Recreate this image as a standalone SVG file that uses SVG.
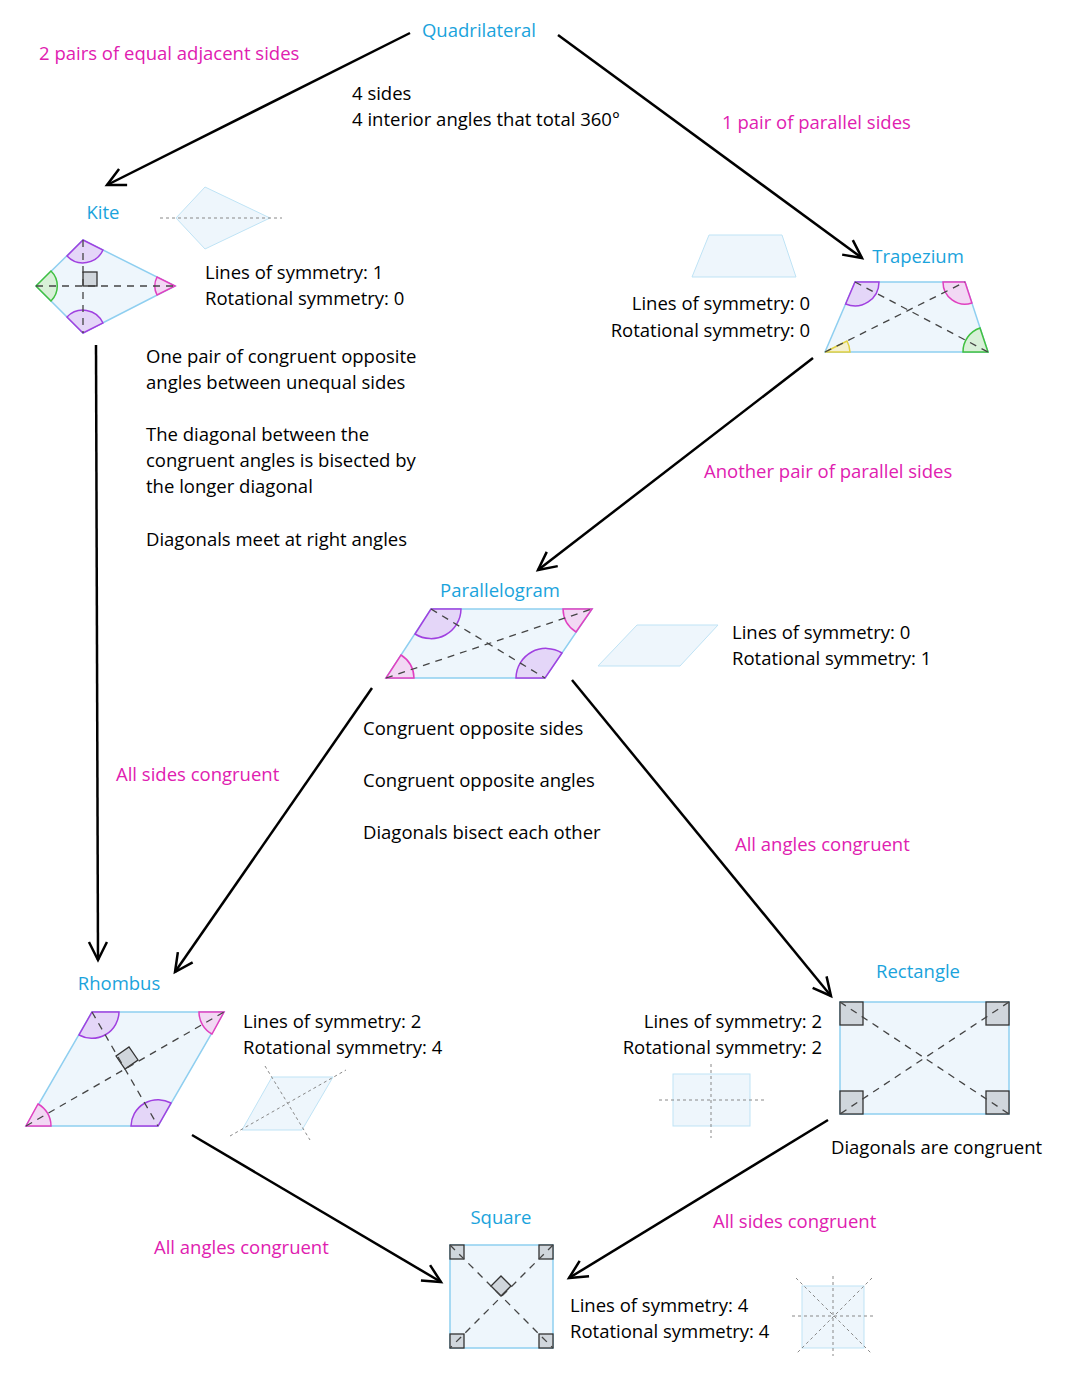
<svg xmlns="http://www.w3.org/2000/svg" width="1080" height="1398" viewBox="0 0 1080 1398">
<defs>
<marker id="ah" markerWidth="24" markerHeight="24" refX="21" refY="12" orient="auto" markerUnits="userSpaceOnUse"><path d="M3,3 L21,12 L3,21" fill="none" stroke="#000" stroke-width="2.5"/></marker>
</defs>
<style>
text{font-family:"Open Sans","Liberation Sans",sans-serif;font-size:18.5px;fill:#000}
.t{fill:#1aa3dc}
.m{fill:#e020b0}
.sh{fill:#eef6fc;stroke:#8fcff0;stroke-width:1.5}
.gh{fill:#eef6fc;stroke:#bfe3f5;stroke-width:1}
.d{stroke:#444;stroke-width:1.3;stroke-dasharray:7,6;fill:none}
.dg{stroke:#888;stroke-width:1;stroke-dasharray:3,3;fill:none}
.pu{fill:#e4d6f8;stroke:#a040e0;stroke-width:1.5}
.pk{fill:#f2d8f4;stroke:#e040c0;stroke-width:1.5}
.gr{fill:#d8f0d8;stroke:#40c040;stroke-width:1.5}
.ye{fill:#f4f0d0;stroke:#e0d040;stroke-width:1.5}
.ra{fill:#d0d6dc;stroke:#333;stroke-width:1.3}
.c{stroke:#000;stroke-width:2.5;fill:none;marker-end:url(#ah)}
</style>
<g id="connectors">
<line class="c" x1="410" y1="33" x2="107" y2="185"/>
<line class="c" x1="558" y1="35" x2="862" y2="258"/>
<line class="c" x1="813" y1="358" x2="538" y2="570"/>
<line class="c" x1="96" y1="345" x2="98" y2="960"/>
<line class="c" x1="372" y1="688" x2="175" y2="972"/>
<line class="c" x1="572" y1="680" x2="831" y2="996"/>
<line class="c" x1="192" y1="1135" x2="441" y2="1282"/>
<line class="c" x1="828" y1="1120" x2="569" y2="1278"/>
</g>
<g id="labels">
<text x="39" y="60" class="m">2 pairs of equal adjacent sides</text>
<text x="722" y="129" class="m">1 pair of parallel sides</text>
<text x="704" y="478" class="m">Another pair of parallel sides</text>
<text x="116" y="781" class="m">All sides congruent</text>
<text x="735" y="851" class="m">All angles congruent</text>
<text x="154" y="1254" class="m">All angles congruent</text>
<text x="713" y="1228" class="m">All sides congruent</text>
</g>
<g id="quadrilateral">
<text x="479" y="37" class="t" text-anchor="middle">Quadrilateral</text>
<text x="352" y="100">4 sides</text>
<text x="352" y="126">4 interior angles that total 360°</text>
</g>
<g id="kite">
<text x="103" y="219" class="t" text-anchor="middle">Kite</text>
<polygon class="gh" points="176,218 205,187 270,218 205,249"/>
<line class="dg" x1="160" y1="218" x2="282" y2="218"/>
<polygon class="sh" points="36,286 83,240 175,286 83,333"/>
<path class="pu" d="M83,240 L67,256 A22,22 0 0 0 103,250 Z"/>
<path class="pu" d="M83,333 L67,317 A22,22 0 0 1 103,323 Z"/>
<path class="gr" d="M36,286 L51,271 A21,21 0 0 1 51,301 Z"/>
<path class="pk" d="M175,286 L157,277 A20,20 0 0 0 157,295 Z"/>
<rect class="ra" x="83" y="272" width="14" height="14"/>
<line class="d" x1="36" y1="286" x2="175" y2="286"/>
<line class="d" x1="83" y1="240" x2="83" y2="333"/>
<text x="205" y="279">Lines of symmetry: 1</text>
<text x="205" y="305">Rotational symmetry: 0</text>
<text x="146" y="363">One pair of congruent opposite</text>
<text x="146" y="389">angles between unequal sides</text>
<text x="146" y="441">The diagonal between the</text>
<text x="146" y="467">congruent angles is bisected by</text>
<text x="146" y="493">the longer diagonal</text>
<text x="146" y="546">Diagonals meet at right angles</text>
</g>
<g id="trapezium">
<text x="918" y="263" class="t" text-anchor="middle">Trapezium</text>
<polygon class="gh" points="692,277 796,277 782,235 709,235"/>
<polygon class="sh" points="825,352 988,352 965,282 855,282"/>
<path class="pu" d="M855,282 L879,282 A24,24 0 0 1 845.6,304 Z"/>
<path class="pk" d="M965,282 L943,282 A22,22 0 0 0 971.9,303 Z"/>
<path class="ye" d="M825,352 L850,352 A25,25 0 0 0 847,341 Z"/>
<path class="gr" d="M988,352 L963,352 A25,25 0 0 1 980,328 Z"/>
<line class="d" x1="825" y1="352" x2="965" y2="282"/>
<line class="d" x1="855" y1="282" x2="988" y2="352"/>
<text x="810" y="310" text-anchor="end">Lines of symmetry: 0</text>
<text x="810" y="337" text-anchor="end">Rotational symmetry: 0</text>
</g>
<g id="parallelogram">
<text x="500" y="597" class="t" text-anchor="middle">Parallelogram</text>
<polygon class="gh" points="598,666 680,666 718,625 637,625"/>
<polygon class="sh" points="386,678 545,678 592,609 431,609"/>
<path class="pu" d="M431,609 L461,609 A30,30 0 0 1 415,634 Z"/>
<path class="pu" d="M545,678 L516,678 A30,30 0 0 1 562,653 Z"/>
<path class="pk" d="M386,678 L414,678 A28,28 0 0 0 401,655 Z"/>
<path class="pk" d="M592,609 L563,609 A28,28 0 0 0 576,632 Z"/>
<line class="d" x1="386" y1="678" x2="592" y2="609"/>
<line class="d" x1="431" y1="609" x2="545" y2="678"/>
<text x="732" y="639">Lines of symmetry: 0</text>
<text x="732" y="665">Rotational symmetry: 1</text>
<text x="363" y="735">Congruent opposite sides</text>
<text x="363" y="787">Congruent opposite angles</text>
<text x="363" y="839">Diagonals bisect each other</text>
</g>
<g id="rhombus">
<text x="119" y="990" class="t" text-anchor="middle">Rhombus</text>
<polygon class="sh" points="26,1126 158,1126 224,1012 92,1012"/>
<path class="pu" d="M92,1012 L119,1012 A27,27 0 0 1 79,1035 Z"/>
<path class="pu" d="M158,1126 L131,1126 A27,27 0 0 1 171,1103 Z"/>
<path class="pk" d="M26,1126 L51,1126 A25,25 0 0 0 38,1104 Z"/>
<path class="pk" d="M224,1012 L199,1012 A25,25 0 0 0 212,1034 Z"/>
<polygon class="ra" points="116,1056 129,1047 138,1060 125,1069"/>
<line class="d" x1="26" y1="1126" x2="224" y2="1012"/>
<line class="d" x1="92" y1="1012" x2="158" y2="1126"/>
<polygon class="gh" points="242,1130 302,1130 333,1077 272,1077"/>
<line class="dg" x1="230" y1="1136" x2="346" y2="1070"/>
<line class="dg" x1="265" y1="1066" x2="310" y2="1140"/>
<text x="243" y="1028">Lines of symmetry: 2</text>
<text x="243" y="1054">Rotational symmetry: 4</text>
</g>
<g id="rectangle">
<text x="918" y="978" class="t" text-anchor="middle">Rectangle</text>
<rect class="sh" x="840" y="1002" width="169" height="112"/>
<rect class="ra" x="840" y="1002" width="23" height="23"/>
<rect class="ra" x="986" y="1002" width="23" height="23"/>
<rect class="ra" x="840" y="1091" width="23" height="23"/>
<rect class="ra" x="986" y="1091" width="23" height="23"/>
<line class="d" x1="840" y1="1002" x2="1009" y2="1114"/>
<line class="d" x1="1009" y1="1002" x2="840" y2="1114"/>
<rect class="gh" x="673" y="1074" width="77" height="52"/>
<line class="dg" x1="659" y1="1100" x2="765" y2="1100"/>
<line class="dg" x1="711" y1="1064" x2="711" y2="1138"/>
<text x="822" y="1028" text-anchor="end">Lines of symmetry: 2</text>
<text x="822" y="1054" text-anchor="end">Rotational symmetry: 2</text>
<text x="831" y="1154">Diagonals are congruent</text>
</g>
<g id="square">
<text x="501" y="1224" class="t" text-anchor="middle">Square</text>
<rect class="sh" x="450" y="1245" width="103" height="103"/>
<rect class="ra" x="450" y="1245" width="14" height="14"/>
<rect class="ra" x="539" y="1245" width="14" height="14"/>
<rect class="ra" x="450" y="1334" width="14" height="14"/>
<rect class="ra" x="539" y="1334" width="14" height="14"/>
<polygon class="ra" points="501,1276 511,1286 501,1296 491,1286"/>
<line class="d" x1="450" y1="1245" x2="553" y2="1348"/>
<line class="d" x1="553" y1="1245" x2="450" y2="1348"/>
<rect class="gh" x="802" y="1286" width="62" height="62"/>
<line class="dg" x1="792" y1="1316" x2="874" y2="1316"/>
<line class="dg" x1="833" y1="1276" x2="833" y2="1356"/>
<line class="dg" x1="796" y1="1278" x2="872" y2="1354"/>
<line class="dg" x1="872" y1="1278" x2="796" y2="1354"/>
<text x="570" y="1312">Lines of symmetry: 4</text>
<text x="570" y="1338">Rotational symmetry: 4</text>
</g>
</svg>
